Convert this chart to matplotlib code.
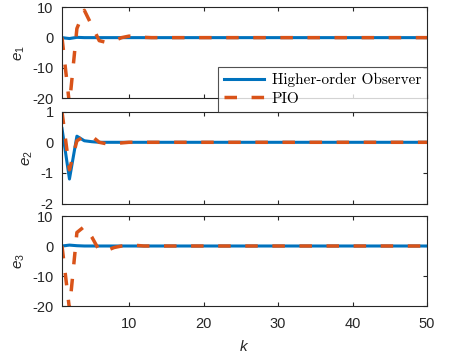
import numpy as np
import matplotlib
matplotlib.use("Agg")
import matplotlib.pyplot as plt

# sample index k = 1..50
k = np.arange(1, 51)

# error values (first samples, then zero)
e1_hoo_head = [0.0, -0.3, 0.1, 0.0]
e1_pio_head = [0.0, -22.0, 3.0, 9.0, 4.0, -1.0, -1.6, -1.0, 0.0, 0.5, 0.4, 0.1]
e2_hoo_head = [0.45, -1.2, 0.2, 0.05, 0.02, 0.0]
e2_pio_head = [1.0, -0.9, 0.05, 0.2, 0.2, 0.0, -0.05, -0.05, -0.02, 0.0]
e3_hoo_head = [0.0, 0.3, 0.1, 0.0]
e3_pio_head = [0.0, -21.0, 4.5, 6.5, 3.0, -1.5, -1.5, -0.5, 0.0, 0.3, 0.2, 0.0]

ylabels = ["$e_1$", "$e_2$", "$e_3$"]
ylims = [(-20, 10), (-2, 1), (-20, 10)]
yticks = [[-20, -10, 0, 10], [-2, -1, 0, 1], [-20, -10, 0, 10]]
xticks = [10, 20, 30, 40, 50]


def pad(head):
    out = np.zeros(len(k))
    out[:len(head)] = head
    return out


hoo = [pad(e1_hoo_head), pad(e2_hoo_head), pad(e3_hoo_head)]
pio = [pad(e1_pio_head), pad(e2_pio_head), pad(e3_pio_head)]

plt.rcParams['font.family'] = 'Liberation Sans'
plt.rcParams['axes.unicode_minus'] = False
plt.rcParams['mathtext.fontset'] = 'custom'
plt.rcParams['mathtext.it'] = 'Liberation Sans:italic'
plt.rcParams['mathtext.rm'] = 'Liberation Sans'

fig = plt.figure(figsize=(4.74, 3.59), dpi=100)
W, H = 474.0, 359.0
left, right = 62 / W, 427 / W
boxes = [(7.3, 98.3), (111.7, 203.5), (216, 306)]

blue = '#0072BD'
orange = '#D95319'

axes = []
for i, (top, bot) in enumerate(boxes):
    ax = fig.add_axes([left, 1 - bot / H, right - left, (bot - top) / H])
    ax.plot(k, hoo[i], color=blue, linewidth=2.2, label='Higher-order Observer')
    ax.plot(k, pio[i], color=orange, linewidth=2.5, linestyle=(0, (3.6, 4.2)),
            label='PIO')
    ax.set_xlim(1, 50)
    ax.set_ylim(*ylims[i])
    ax.set_yticks(yticks[i])
    ax.set_xticks(xticks)
    ax.tick_params(direction='in', top=True, right=True, labelsize=10.5,
                   length=3, width=0.8, colors='#262626', labelcolor='#262626')
    ax.tick_params(axis='x', pad=8)
    ax.tick_params(axis='y', pad=6)
    for s in ax.spines.values():
        s.set_color('#262626')
        s.set_linewidth(0.8)
    ax.set_ylabel(ylabels[i], fontsize=11, color='#262626', labelpad=4)
    if i < 2:
        ax.set_xticklabels([])
    axes.append(ax)

axes[2].set_xlabel('$k$', fontsize=11, color='#262626', labelpad=6)

# legend sits in the lower right of the top panel, overhanging the gap
leg = fig.legend([axes[0].lines[0], axes[0].lines[1]],
                 ['Higher-order Observer', 'PIO'],
                 loc='lower right', bbox_to_anchor=(427 / W, 1 - 111.7 / H),
                 prop={'family': 'cmr10', 'size': 11},
                 frameon=True, fancybox=False, edgecolor='#262626',
                 borderpad=0.4, labelspacing=0.3, handlelength=2.6,
                 handletextpad=0.5, borderaxespad=0)
leg.get_frame().set_linewidth(0.8)

fig.savefig('out.png', dpi=100)
